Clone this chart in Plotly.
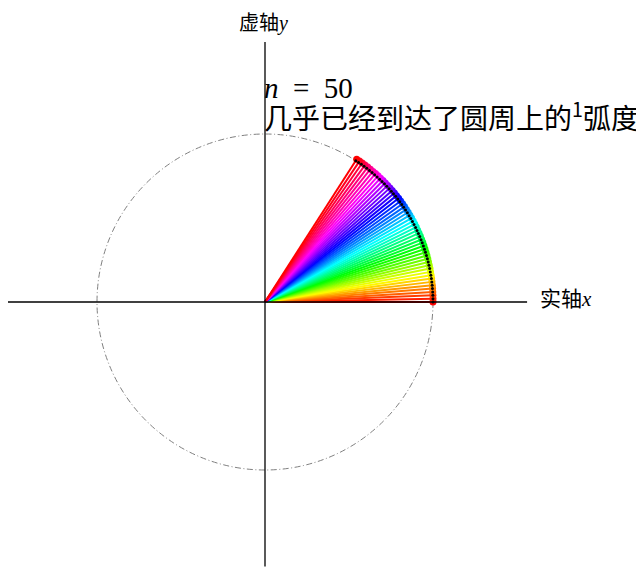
import plotly.graph_objects as go

n = 50

# points (1 + i/n)^k, k = 0..n
pts_x = [1.0000, 1.0000, 0.9996, 0.9988, 0.9976, 0.9960, 0.9940, 0.9916, 0.9888, 0.9856,
         0.9821, 0.9780, 0.9736, 0.9689, 0.9638, 0.9582, 0.9522, 0.9460, 0.9393, 0.9322,
         0.9248, 0.9169, 0.9088, 0.9002, 0.8913, 0.8820, 0.8723, 0.8623, 0.8520, 0.8414,
         0.8303, 0.8189, 0.8072, 0.7952, 0.7829, 0.7702, 0.7572, 0.7440, 0.7303, 0.7164,
         0.7023, 0.6878, 0.6731, 0.6580, 0.6428, 0.6272, 0.6114, 0.5953, 0.5790, 0.5625,
         0.5457]
pts_y = [0.0000, 0.0200, 0.0400, 0.0600, 0.0800, 0.0999, 0.1198, 0.1397, 0.1596, 0.1793,
         0.1991, 0.2187, 0.2383, 0.2578, 0.2772, 0.2964, 0.3156, 0.3346, 0.3536, 0.3723,
         0.3910, 0.4095, 0.4278, 0.4459, 0.4640, 0.4818, 0.4995, 0.5169, 0.5342, 0.5512,
         0.5680, 0.5846, 0.6010, 0.6171, 0.6331, 0.6487, 0.6641, 0.6793, 0.6941, 0.7088,
         0.7231, 0.7371, 0.7509, 0.7643, 0.7775, 0.7903, 0.8029, 0.8152, 0.8271, 0.8386,
         0.8499]

# the same angles on the unit circle (black dots)
circ_x = [1.0000, 0.9998, 0.9992, 0.9982, 0.9968, 0.9950, 0.9928, 0.9902, 0.9872, 0.9838,
          0.9801, 0.9759, 0.9713, 0.9664, 0.9611, 0.9553, 0.9492, 0.9428, 0.9359, 0.9287,
          0.9211, 0.9131, 0.9048, 0.8961, 0.8870, 0.8776, 0.8678, 0.8577, 0.8473, 0.8365,
          0.8253, 0.8139, 0.8021, 0.7900, 0.7776, 0.7648, 0.7518, 0.7385, 0.7248, 0.7109,
          0.6967, 0.6822, 0.6675, 0.6524, 0.6372, 0.6216, 0.6058, 0.5898, 0.5735, 0.5570,
          0.5403]
circ_y = [0.0000, 0.0200, 0.0400, 0.0600, 0.0799, 0.0998, 0.1197, 0.1395, 0.1593, 0.1790,
          0.1987, 0.2182, 0.2377, 0.2571, 0.2764, 0.2955, 0.3146, 0.3335, 0.3523, 0.3709,
          0.3894, 0.4078, 0.4259, 0.4439, 0.4618, 0.4794, 0.4969, 0.5141, 0.5312, 0.5480,
          0.5646, 0.5810, 0.5972, 0.6131, 0.6288, 0.6442, 0.6594, 0.6743, 0.6889, 0.7033,
          0.7174, 0.7311, 0.7446, 0.7578, 0.7707, 0.7833, 0.7956, 0.8076, 0.8192, 0.8305,
          0.8415]

AX = 1.56  # half length of the axis lines
UNIT = 168  # pixels per unit
# page body has an 8px margin, so the figure is a bit smaller and shifted
W, H = 636, 560
OX, OY = 257, 294  # origin in figure pixels

def hue(k):
    return "hsl(%d,100%%,50%%)" % round(360 * k / n)

fig = go.Figure()

# rays from the origin
for k in range(len(pts_x)):
    fig.add_trace(go.Scatter(x=[0, pts_x[k]], y=[0, pts_y[k]], mode="lines",
                             line=dict(color=hue(k), width=2), hoverinfo="skip"))

# coloured end points
fig.add_trace(go.Scatter(x=pts_x, y=pts_y, mode="markers",
                         marker=dict(color=[hue(k) for k in range(len(pts_x))], size=7,
                                     line=dict(width=0))))
# black dots on the circle
fig.add_trace(go.Scatter(x=circ_x, y=circ_y, mode="markers",
                         marker=dict(color="black", size=3, line=dict(width=0))))

shapes = [
    dict(type="circle", xref="x", yref="y", x0=-1, y0=-1, x1=1, y1=1,
         line=dict(color="gray", width=1, dash="6px,2.5px,1px,2.5px"), layer="below"),
    dict(type="line", xref="x", yref="y", x0=-AX, y0=0, x1=AX, y1=0,
         line=dict(color="black", width=1.3)),
    dict(type="line", xref="x", yref="y", x0=0, y0=-1.575, x1=0, y1=1.548,
         line=dict(color="black", width=1.3)),
]

serif = "Liberation Serif"
cjk = "Noto Sans CJK SC"
note = ("<span style='font-family:%s;font-size:29px'><i>n</i>  =  50</span><br>"
        "<span style='font-size:28px'>几乎已经到达了圆周上的<sup>1</sup>弧度</span>") % serif
annos = [
    dict(x=-0.165, y=1.67, text="虚轴<span style='font-family:%s'><i>y</i></span>" % serif,
         font=dict(family=cjk, size=20, color="black")),
    dict(x=1.625, y=0.03, text="实轴<span style='font-family:%s'><i>x</i></span>" % serif,
         font=dict(family=cjk, size=21, color="black")),
    dict(x=-0.015, y=1.178, text=note, align="left",
         font=dict(family=cjk, size=24, color="black")),
]
for a in annos:
    a.update(xref="x", yref="y", xanchor="left", yanchor="middle", showarrow=False)

fig.update_layout(
    width=W, height=H,
    margin=dict(l=0, r=0, t=0, b=0),
    plot_bgcolor="white", paper_bgcolor="white",
    showlegend=False,
    shapes=shapes, annotations=annos,
    xaxis=dict(range=[-OX / UNIT, (W - OX) / UNIT], visible=False, fixedrange=True),
    yaxis=dict(range=[-(H - OY) / UNIT, OY / UNIT], visible=False, fixedrange=True),
)

fig.write_html("out.html")
